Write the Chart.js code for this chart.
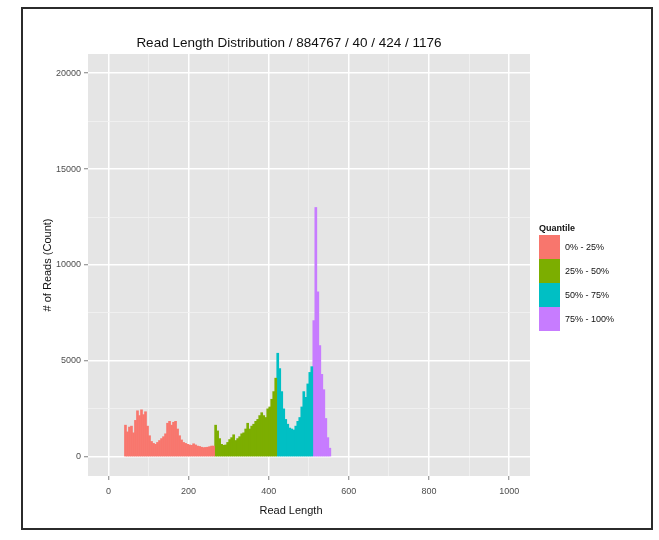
<!DOCTYPE html>
<html>
<head>
<meta charset="utf-8">
<script src="https://cdn.jsdelivr.net/npm/chart.js@4.4.0/dist/chart.umd.min.js"></script>
<style>
body{margin:0;background:#fff;}
#wrap{position:relative;width:659px;height:540px;overflow:hidden;font-family:"Liberation Sans",Arial,sans-serif;color:#111;}
#frame{position:absolute;left:21px;top:7px;width:628px;height:519px;border:2px solid #2b2b2b;}
canvas{position:absolute;left:0;top:0;}
#title{position:absolute;left:0;width:578px;top:35px;line-height:16px;text-align:center;font-size:13.5px;}
#xTitle{position:absolute;left:191px;width:200px;top:503px;line-height:14px;text-align:center;font-size:11px;}
#yTitle{position:absolute;left:-53px;width:200px;top:258px;line-height:14px;text-align:center;font-size:11px;transform:rotate(-90deg);}
#legend{position:absolute;left:539px;top:221px;font-size:9px;}
#legend .lt{font-weight:bold;line-height:14px;height:14px;}
#legend .row{height:24px;line-height:24px;white-space:nowrap;}
#legend .key{display:inline-block;width:21px;height:24px;vertical-align:top;margin-right:5px;}
</style>
</head>
<body>
<div id="wrap">
  <canvas id="rlChart" width="659" height="540"></canvas>
  <div id="frame"></div>
  <div id="title">Read Length Distribution / 884767 / 40 / 424 / 1176</div>
  <div id="xTitle">Read Length</div>
  <div id="yTitle"># of Reads (Count)</div>
  <div id="legend"></div>
</div>
<script>
// read length bins (bin start, width 5) and counts, one pair per quantile
var binWidth = 5;
var q1Len = [40,45,50,55,60,65,70,75,80,85,90,95,100,105,110,115,120,125,130,135,140,145,150,155,160,165,170,175,180,185,190,195,200,205,210,215,220,225,230,235,240,245,250,255,260];
var q1Cnt = [1650,1300,1550,1600,1250,1900,2400,2150,2450,2200,2350,1600,1100,800,700,650,750,850,950,1050,1200,1750,1850,1650,1800,1850,1450,1100,880,750,700,650,620,600,680,620,560,540,500,480,490,500,530,560,560];
var q2Len = [265,270,275,280,285,290,295,300,305,310,315,320,325,330,335,340,345,350,355,360,365,370,375,380,385,390,395,400,405,410,415];
var q2Cnt = [1650,1350,950,650,600,620,750,900,1000,1150,850,950,1050,1200,1250,1450,1750,1450,1600,1700,1850,1950,2150,2300,2150,2050,2500,2600,3000,3400,4100];
var q3Len = [420,425,430,435,440,445,450,455,460,465,470,475,480,485,490,495,500,505];
var q3Cnt = [5400,4600,3400,2500,1950,1700,1500,1450,1400,1600,1850,2050,2600,3400,3100,3800,4400,4700];
var q4Len = [510,515,520,525,530,535,540,545,550];
var q4Cnt = [7100,13000,8600,5800,4300,3500,2000,1000,450];

var quantileLabels = ['0% - 25%','25% - 50%','50% - 75%','75% - 100%'];
var quantileColors = ['#F8766D','#7CAE00','#00BFC4','#C77CFF'];
var xTicks = [0,200,400,600,800,1000];
var xGrid  = [0,100,200,300,400,500,600,700,800,900,1000];
var yTicks = [0,5000,10000,15000,20000];
var yGrid  = [0,2500,5000,7500,10000,12500,15000,17500,20000];

function pts(len, cnt){
  var out = [];
  for (var i=0;i<len.length;i++) out.push({ x: len[i] + binWidth/2, y: cnt[i] });
  return out;
}

var series = [pts(q1Len,q1Cnt), pts(q2Len,q2Cnt), pts(q3Len,q3Cnt), pts(q4Len,q4Cnt)];
var datasets = [];
for (var i=0;i<series.length;i++){
  datasets.push({ label: quantileLabels[i], data: series[i], backgroundColor: quantileColors[i],
    borderWidth: 0, barPercentage: 1, categoryPercentage: 1, grouped: false });
}

//Legend
var lg = document.getElementById('legend');
var html = '<div class="lt">Quantile</div>';
for (var k=0;k<quantileLabels.length;k++){
  html += '<div class="row"><span class="key" style="background:'+quantileColors[k]+'"></span>'+quantileLabels[k]+'</div>';
}
lg.innerHTML = html;

var panelBg = {
  id: 'panelBg',
  beforeDraw: function(chart){
    var a = chart.chartArea, c = chart.ctx;
    c.save();
    c.fillStyle = '#E5E5E5';
    c.fillRect(a.left, a.top, a.right - a.left, a.bottom - a.top);
    c.restore();
  }
};

function isMajor(ctx, list){ return ctx.tick && list.indexOf(ctx.tick.value) >= 0; }
function setTicks(list){ return function(s){ s.ticks = list.map(function(v){ return { value: v }; }); }; }
var tickFont = { family: '"Liberation Sans", Arial, sans-serif', size: 9 };

new Chart(document.getElementById('rlChart').getContext('2d'), {
  type: 'bar',
  data: { datasets: datasets },
  plugins: [panelBg],
  options: {
    responsive: false, animation: false, devicePixelRatio: 1,
    layout: { padding: { left: 0, right: 129, top: 54, bottom: 34 } },
    plugins: { legend: { display: false }, title: { display: false }, tooltip: { enabled: false } },
    scales: {
      x: {
        type: 'linear', min: -51, max: 1052, bounds: 'data', offset: false,
        afterBuildTicks: setTicks(xGrid),
        afterFit: function(s){ s.height = 30; },
        border: { display: false },
        grid: {
          offset: false,
          color: function(c){ return isMajor(c, xTicks) ? '#FFFFFF' : '#F2F2F2'; },
          lineWidth: function(c){ return isMajor(c, xTicks) ? 1.5 : 0.8; },
          tickColor: function(c){ return isMajor(c, xTicks) ? '#7F7F7F' : 'rgba(0,0,0,0)'; },
          tickLength: 4, tickWidth: 1
        },
        ticks: { autoSkip: false, maxRotation: 0, padding: 6,
          color: '#4D4D4D', font: tickFont,
          callback: function(v){ return xTicks.indexOf(v) >= 0 ? String(v) : ''; } }
      },
      y: {
        type: 'linear', min: -1000, max: 21000, bounds: 'data',
        afterBuildTicks: setTicks(yGrid),
        afterFit: function(s){ s.width = 88; },
        border: { display: false },
        grid: {
          color: function(c){ return isMajor(c, yTicks) ? '#FFFFFF' : '#F2F2F2'; },
          lineWidth: function(c){ return isMajor(c, yTicks) ? 1.5 : 0.8; },
          tickColor: function(c){ return isMajor(c, yTicks) ? '#7F7F7F' : 'rgba(0,0,0,0)'; },
          tickLength: 4, tickWidth: 1
        },
        ticks: { autoSkip: false, padding: 3,
          color: '#4D4D4D', font: tickFont,
          callback: function(v){ return yTicks.indexOf(v) >= 0 ? String(v) : ''; } }
      }
    }
  }
});
</script>
</body>
</html>
